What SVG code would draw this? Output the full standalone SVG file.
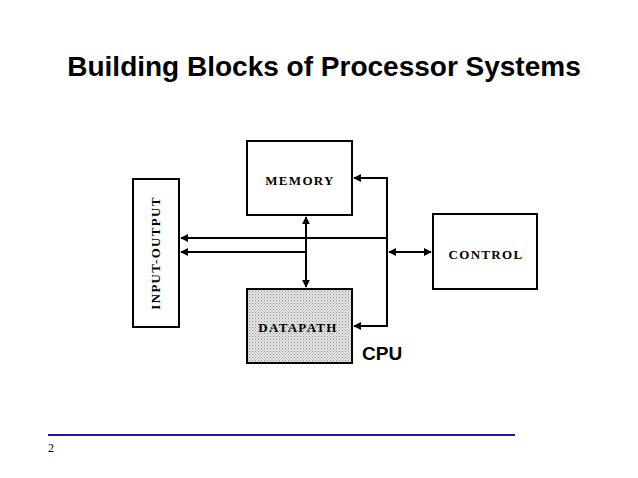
<svg xmlns="http://www.w3.org/2000/svg" width="638" height="478" viewBox="0 0 638 478">
<style>
.box{fill:#fff;stroke:#000;stroke-width:2}
.lbl{font-family:"Liberation Serif",serif;font-weight:bold;font-size:13px;letter-spacing:1.3px;text-anchor:middle}
.ln{stroke:#000;stroke-width:2;fill:none}
</style>
<defs>
<pattern id="dots" width="3" height="3" patternUnits="userSpaceOnUse"><rect width="3" height="3" fill="#e8e8e8"/><rect width="1" height="1" fill="#888"/><rect x="1.5" y="1.5" width="1" height="1" fill="#999"/></pattern>
<marker id="ah" viewBox="0 0 10 10" refX="9" refY="5" markerWidth="4" markerHeight="4" orient="auto-start-reverse"><path d="M0,0L10,5L0,10z" fill="#000"/></marker>
</defs>
<rect width="638" height="478" fill="#fff"/>
<text x="324" y="76" font-family="Liberation Sans,sans-serif" font-weight="bold" font-size="28" text-anchor="middle">Building Blocks of Processor Systems</text>
<g id="memory"><rect class="box" x="247" y="141" width="105" height="74"/><text class="lbl" x="300" y="185">MEMORY</text></g>
<g id="io"><rect class="box" x="133" y="179" width="46" height="148"/><text class="lbl" transform="translate(160,253) rotate(-90)">INPUT-OUTPUT</text></g>
<g id="control"><rect class="box" x="433" y="214" width="104" height="75"/><text class="lbl" x="486" y="259">CONTROL</text></g>
<g id="datapath"><rect x="247" y="289" width="105" height="74" fill="url(#dots)" stroke="#000" stroke-width="2"/><text class="lbl" x="298" y="332">DATAPATH</text></g>
<g id="connectors">
<line class="ln" x1="306" y1="217" x2="306" y2="287" marker-start="url(#ah)" marker-end="url(#ah)"/>
<line class="ln" x1="387" y1="238" x2="181" y2="238" marker-end="url(#ah)"/>
<line class="ln" x1="306" y1="252" x2="181" y2="252" marker-end="url(#ah)"/>
<polyline class="ln" points="354,178 387,178 387,326 354,326" marker-start="url(#ah)" marker-end="url(#ah)"/>
<line class="ln" x1="389" y1="252" x2="431" y2="252" marker-start="url(#ah)" marker-end="url(#ah)"/>
</g>
<text x="362" y="360" font-family="Liberation Sans,sans-serif" font-weight="bold" font-size="19">CPU</text>
<line x1="48" y1="435" x2="515" y2="435" stroke="#1a1a9a" stroke-width="2"/>
<text x="48" y="452" font-family="Liberation Serif,serif" font-size="12">2</text>
</svg>
